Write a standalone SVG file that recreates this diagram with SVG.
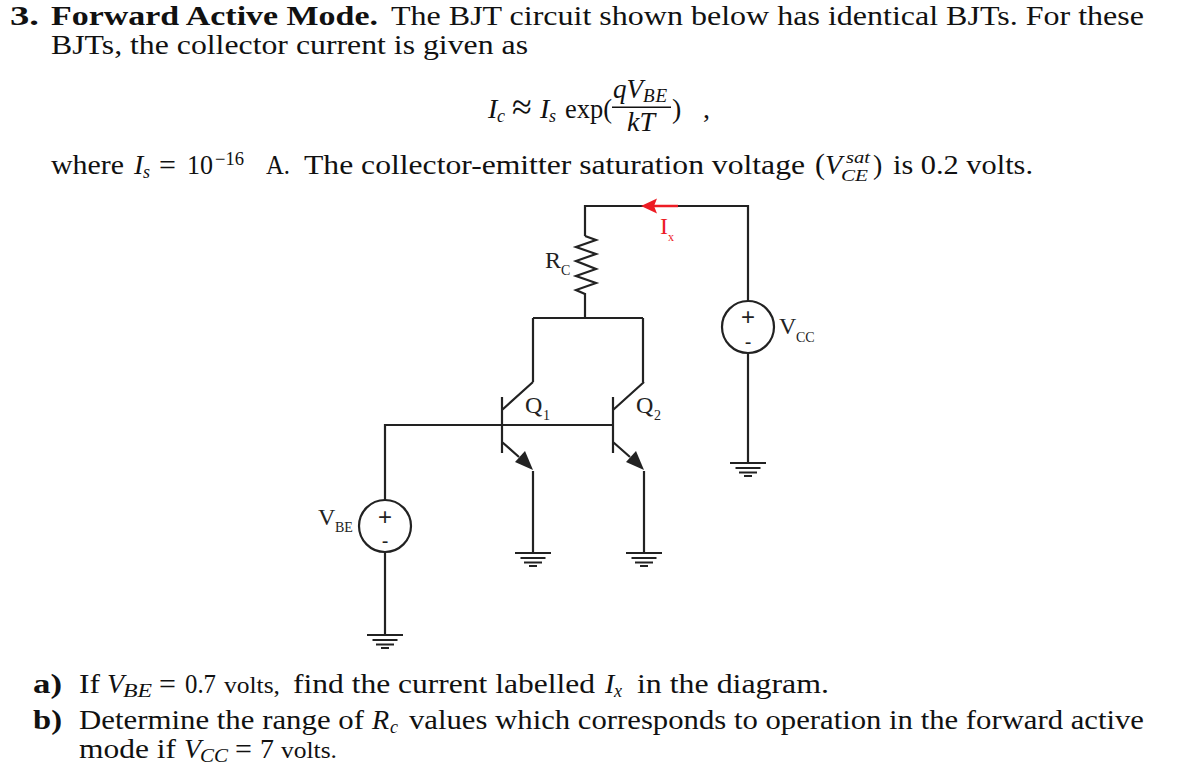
<svg xmlns="http://www.w3.org/2000/svg" width="1200" height="767" viewBox="0 0 1200 767">
<style>
text{font-family:"Liberation Serif","Times New Roman",serif;fill:#111}
.t{font-size:28px}
.b{font-weight:bold}
.i{font-style:italic}
.s{font-size:18px}
.w{fill:none;stroke:#222;stroke-width:2.2;stroke-linejoin:miter}
.g{fill:none;stroke:#222;stroke-width:2.2}
.l{font-size:24px;fill:#222}
.ls{font-size:14px;fill:#222}
.p{font-family:"Liberation Sans",sans-serif;fill:#222;text-anchor:middle}
.r{fill:#ed1c24}
</style>
<defs>
<g id="gnd"><path class="g" d="M-18 0H18M-12.500 5H12.500M-9 9.500H9M-4 13H4"/></g>
</defs>
<rect width="1200" height="767" fill="#fff"/>
<g id="text">
<text class="t b" x="10" y="25" textLength="29" lengthAdjust="spacingAndGlyphs">3.</text>
<text class="t b" x="51" y="25" textLength="327" lengthAdjust="spacingAndGlyphs">Forward Active Mode.</text>
<text class="t" x="391" y="25" textLength="753" lengthAdjust="spacingAndGlyphs">The BJT circuit shown below has identical BJTs. For these</text>
<text class="t" x="51" y="54" textLength="477" lengthAdjust="spacingAndGlyphs">BJTs, the collector current is given as</text>
<text class="t i" x="488" y="118">I</text><text class="s i" x="497" y="122">c</text>
<text x="512" y="119" font-size="36">≈</text>
<text class="t i" x="540" y="118">I</text><text class="s i" x="549" y="122">s</text>
<text class="t" x="565" y="118" textLength="47" lengthAdjust="spacingAndGlyphs">exp(</text>
<text class="i" x="613" y="98" font-size="27">qV<tspan font-size="19" dy="4" letter-spacing="1">BE</tspan></text>
<rect x="612" y="106.500" width="59" height="1.500" fill="#111"/>
<text class="t i" x="627" y="131">kT</text>
<text class="t" x="672" y="118">)</text>
<text class="t" x="703" y="118">,</text>
<text class="t" x="51" y="174" textLength="73" lengthAdjust="spacingAndGlyphs">where</text>
<text class="t i" x="134" y="174">I</text><text class="s i" x="143" y="178">s</text>
<text x="159" y="175" font-size="30">=</text>
<text class="t" x="187" y="174" textLength="26" lengthAdjust="spacingAndGlyphs">10</text>
<text class="s" x="215" y="165" textLength="29" lengthAdjust="spacingAndGlyphs">−16</text>
<text class="t" x="266" y="174" textLength="24" lengthAdjust="spacingAndGlyphs">A.</text>
<text class="t" x="304" y="174" textLength="501" lengthAdjust="spacingAndGlyphs">The collector-emitter saturation voltage</text>
<text x="815" y="174" font-size="30">(</text>
<text class="t i" x="825" y="174">V</text>
<text class="i" font-size="16" x="846" y="163" textLength="24" lengthAdjust="spacingAndGlyphs">sat</text>
<text class="i" font-size="16" x="841" y="181" textLength="27" lengthAdjust="spacingAndGlyphs">CE</text>
<text class="t" x="873" y="174">)</text>
<text class="t" x="893" y="174" textLength="140" lengthAdjust="spacingAndGlyphs">is 0.2 volts.</text>
<text class="t b" x="33" y="693" textLength="29" lengthAdjust="spacingAndGlyphs">a)</text>
<text class="t" x="79" y="693" textLength="21" lengthAdjust="spacingAndGlyphs">If</text>
<text class="t i" x="107" y="693">V</text><text class="s i" x="123" y="697" textLength="29" lengthAdjust="spacingAndGlyphs">BE</text>
<text x="159" y="694" font-size="30">=</text>
<text class="t" x="185" y="693" textLength="31" lengthAdjust="spacingAndGlyphs">0.7</text>
<text x="224" y="693" font-size="24" textLength="56" lengthAdjust="spacingAndGlyphs">volts,</text>
<text class="t" x="293" y="693" textLength="302" lengthAdjust="spacingAndGlyphs">find the current labelled</text>
<text class="t i" x="605" y="693">I</text><text class="s i" x="614" y="697">x</text>
<text class="t" x="637" y="693" textLength="192" lengthAdjust="spacingAndGlyphs">in the diagram.</text>
<text class="t b" x="33" y="729" textLength="29" lengthAdjust="spacingAndGlyphs">b)</text>
<text class="t" x="79" y="729" textLength="285" lengthAdjust="spacingAndGlyphs">Determine the range of</text>
<text class="t i" x="372" y="729">R</text><text class="s i" x="390" y="733">c</text>
<text class="t" x="409" y="729" textLength="735" lengthAdjust="spacingAndGlyphs">values which corresponds to operation in the forward active</text>
<text class="t" x="79" y="758" textLength="97" lengthAdjust="spacingAndGlyphs">mode if</text>
<text class="t i" x="184" y="758">V</text><text class="s i" x="200" y="762" textLength="28" lengthAdjust="spacingAndGlyphs">CC</text>
<text x="235" y="759" font-size="30">=</text>
<text class="t" x="260" y="758">7</text>
<text x="281" y="758" font-size="24" textLength="56" lengthAdjust="spacingAndGlyphs">volts.</text>
</g>
<g id="connectors">
<path class="w" d="M585 236V206H748V301"/>
<path class="w" d="M585 293V318M533 318H643M533 318V382M643 318V382"/>
<path class="w" d="M748 353V463"/>
<path class="w" d="M385 500V425H613"/>
<path class="w" d="M385 552V635"/>
<path class="w" d="M533 471V553M644 471V553"/>
<path d="M678 206H650" stroke="#ed1c24" stroke-width="2.500" fill="none"/>
<path class="r" d="M641 206L657 198.500L654 206L657 213.500Z"/>
</g>
<g id="Rc">
<path class="w" d="M585 236L596 240L576 247L596 254L576 261L596 269L576 276L596 283L576 290L585 294"/>
<text class="l" x="545" y="268">R</text><text class="ls" x="561" y="275">C</text>
</g>
<g id="Ix"><text x="660" y="234" font-size="24" style="fill:#ed1c24">I</text><text x="668" y="241" font-size="12" style="fill:#ed1c24">x</text></g>
<g id="Q1">
<path class="w" d="M502 397V453M533 382L502 410M502 442L519 457"/>
<path d="M533 470L515 462L525 451Z" fill="#222"/>
<text class="l" x="525" y="413">Q</text><text class="ls" x="543" y="420">1</text>
</g>
<g id="Q2">
<path class="w" d="M613 397V453M644 382L613 410M613 442L630 457"/>
<path d="M644 470L626 462L636 451Z" fill="#222"/>
<text class="l" x="636" y="413">Q</text><text class="ls" x="654" y="420">2</text>
</g>
<g id="Vcc">
<circle class="w" cx="748" cy="327" r="26"/>
<text class="p" x="748" y="325" font-size="24">+</text>
<text class="p" x="748" y="349" font-size="20">-</text>
<text class="l" x="779" y="334">V</text><text class="ls" x="796" y="342">CC</text>
</g>
<g id="Vbe">
<circle class="w" cx="385" cy="526" r="26"/>
<text class="p" x="385" y="525" font-size="24">+</text>
<text class="p" x="385" y="548" font-size="20">-</text>
<text class="l" x="318" y="525">V</text><text class="ls" x="335" y="532">BE</text>
</g>
<g id="grounds">
<use href="#gnd" x="533" y="553"/>
<use href="#gnd" x="644" y="553"/>
<use href="#gnd" x="385" y="635"/>
<use href="#gnd" x="748" y="463"/>
</g>
</svg>
